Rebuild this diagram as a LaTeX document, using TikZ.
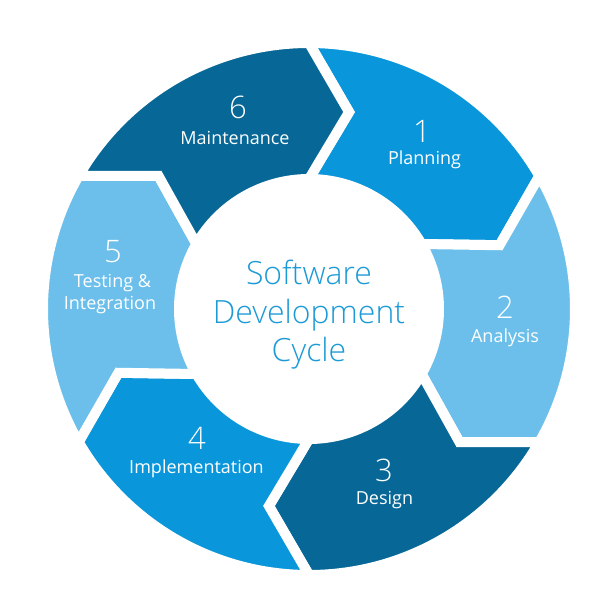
\documentclass[tikz,border=0pt]{standalone}
\usepackage{fontspec}
\setmainfont{Open Sans}
\newfontfamily\lightfont{Open Sans Light}
\definecolor{segmid}{HTML}{0996DA}
\definecolor{seglight}{HTML}{6BBFEA}
\definecolor{segdark}{HTML}{076796}
\definecolor{centretext}{HTML}{1C9AD6}
\def\Rin{130}\def\Rout{266}\def\Rtip{201}\def\tipoff{11.5}
\newcommand\ringsegment[3]{%
  \fill[#3, draw=white, line width=10pt, line join=miter]
    (#1:\Rin) -- (#1-\tipoff:\Rtip) -- (#1:\Rout)
    arc[start angle=#1, end angle=#2, radius=\Rout]
    -- (#2-\tipoff:\Rtip) -- (#2:\Rin)
    arc[start angle=#2, end angle=#1, radius=\Rin] -- cycle;}
\tikzset{
  numtext/.style={text=white, inner sep=0pt, anchor=center, font=\lightfont\fontsize{31}{31}\selectfont},
  labeltext/.style={text=white, inner sep=0pt, anchor=base, font=\fontsize{18}{20}\selectfont},
  centrelabel/.style={text=centretext, inner sep=0pt, anchor=base, font=\lightfont\fontsize{32}{38}\selectfont}
}
\begin{document}
\begin{tikzpicture}[x=1pt,y=1pt]
\useasboundingbox (-309,-307) rectangle (307,309);
\ringsegment{90}{30}{segmid}
\ringsegment{30}{-30}{seglight}
\ringsegment{-30}{-90}{segdark}
\ringsegment{-90}{-150}{segmid}
\ringsegment{-150}{-210}{seglight}
\ringsegment{150}{90}{segdark}
\node[numtext] (n1) at (113,177.5) {1};
\node[labeltext] (l1) at (115.5,144) {Planning};
\node[numtext] (n2) at (196,2) {2};
\node[labeltext] (l2) at (196,-33) {Analysis};
\node[numtext] (n3) at (75,-161) {3};
\node[labeltext] (l3) at (75.5,-195) {Design};
\node[numtext] (n4) at (-112,-129) {4};
\node[labeltext] (l4) at (-112.5,-164) {Implementation};
\node[numtext] (n5) at (-196,57.5) {5};
\node[labeltext] (l5a) at (-196.5,22) {Testing \&};
\node[labeltext] (l5b) at (-199,0) {Integration};
\node[numtext] (n6) at (-71,201.5) {6};
\node[labeltext] (l6) at (-74,164) {Maintenance};
\node[centrelabel] (c1) at (0,25) {Software};
\node[centrelabel] (c2) at (0,-14) {Development};
\node[centrelabel] (c3) at (0,-52) {Cycle};
\end{tikzpicture}
\end{document}
